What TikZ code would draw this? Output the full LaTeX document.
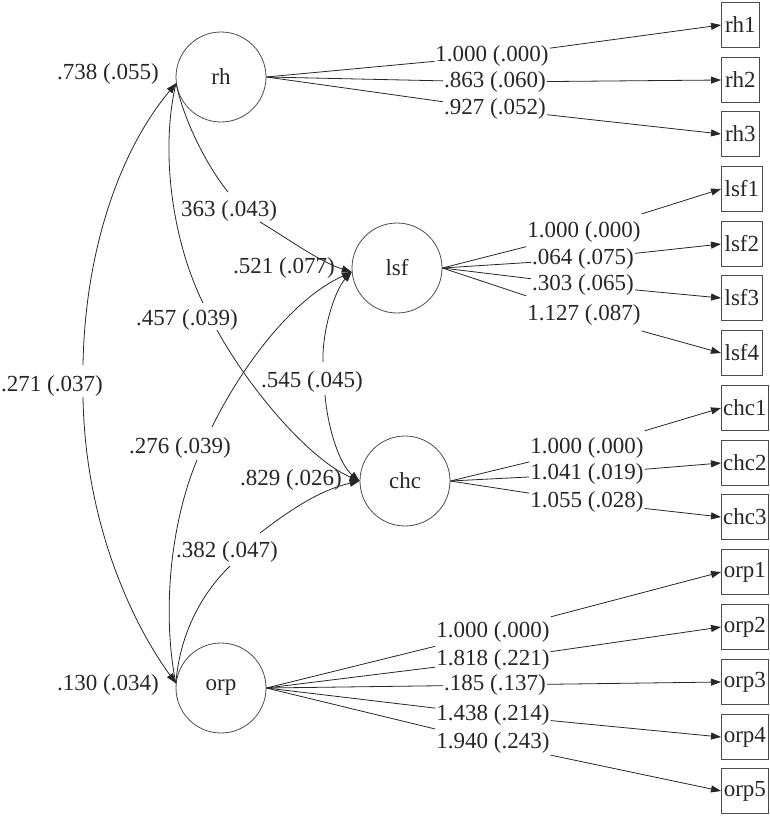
\documentclass[tikz,border=0pt]{standalone}
\usepackage{fontspec}
\setmainfont{Liberation Serif}
\usetikzlibrary{arrows.meta}
\begin{document}
\begin{tikzpicture}[x=1pt,y=-1pt,
  every node/.style={font=\fontsize{23}{27}\selectfont, text=black!85},
  lat/.style={draw=black!70, line width=0.8pt, circle, minimum size=90pt, inner sep=0pt},
  obs/.style={draw=black!70, line width=0.8pt, rectangle, minimum height=45pt, inner xsep=1pt, anchor=west},
  lab/.style={inner xsep=1pt, inner ysep=12pt},
  conn/.style={draw=black!85, line width=0.8pt},
  >={Triangle[length=10pt,width=7pt]}]
\useasboundingbox (0,0) rectangle (770,817);

% latent variables
\node[lat] (rh)  at (221,77)  {rh};
\node[lat] (lsf) at (397,268) {lsf};
\node[lat] (chc) at (405,481) {chc};
\node[lat] (orp) at (221,688) {orp};

% indicators
\node[obs, minimum width=38pt] (rh1) at (721,25)  {rh1};
\node[obs, minimum width=38pt] (rh2) at (721,80)  {rh2};
\node[obs, minimum width=38pt] (rh3) at (721,134) {rh3};
\node[obs, minimum width=41pt] (lsf1) at (721,189) {lsf1};
\node[obs, minimum width=41pt] (lsf2) at (721,244) {lsf2};
\node[obs, minimum width=41pt] (lsf3) at (721,298) {lsf3};
\node[obs, minimum width=41pt] (lsf4) at (721,353) {lsf4};
\node[obs, minimum width=47pt] (chc1) at (721,408) {chc1};
\node[obs, minimum width=47pt] (chc2) at (721,463) {chc2};
\node[obs, minimum width=47pt] (chc3) at (721,517) {chc3};
\node[obs, minimum width=47pt] (orp1) at (721,572) {orp1};
\node[obs, minimum width=47pt] (orp2) at (721,627) {orp2};
\node[obs, minimum width=47pt] (orp3) at (721,682) {orp3};
\node[obs, minimum width=47pt] (orp4) at (721,737) {orp4};
\node[obs, minimum width=47pt] (orp5) at (721,791) {orp5};

% loading labels
\node[lab] (lr1) at (492,56)  {1.000 (.000)};
\node[lab] (lr2) at (495,82)  {.863 (.060)};
\node[lab] (lr3) at (495,109) {.927 (.052)};
\node[lab] (ll1) at (584,232) {1.000 (.000)};
\node[lab] (ll2) at (583,259) {.064 (.075)};
\node[lab] (ll3) at (583,285) {.303 (.065)};
\node[lab] (ll4) at (584,315) {1.127 (.087)};
\node[lab] (lc1) at (587,448) {1.000 (.000)};
\node[lab] (lc2) at (587,474) {1.041 (.019)};
\node[lab] (lc3) at (587,502) {1.055 (.028)};
\node[lab] (lo1) at (493,632) {1.000 (.000)};
\node[lab] (lo2) at (493,660) {1.818 (.221)};
\node[lab] (lo3) at (495,685) {.185 (.137)};
\node[lab] (lo4) at (493,715) {1.438 (.214)};
\node[lab] (lo5) at (493,743) {1.940 (.243)};

% loadings
\foreach \l/\b in {lr1/rh1,lr2/rh2,lr3/rh3}{
  \draw[conn] (rh.east) -- (\l); \draw[conn,->] (\l) -- (\b.west);}
\foreach \l/\b in {ll1/lsf1,ll2/lsf2,ll3/lsf3,ll4/lsf4}{
  \draw[conn] (lsf.east) -- (\l); \draw[conn,->] (\l) -- (\b.west);}
\foreach \l/\b in {lc1/chc1,lc2/chc2,lc3/chc3}{
  \draw[conn] (chc.east) -- (\l); \draw[conn,->] (\l) -- (\b.west);}
\foreach \l/\b in {lo1/orp1,lo2/orp2,lo3/orp3,lo4/orp4,lo5/orp5}{
  \draw[conn] (orp.east) -- (\l); \draw[conn,->] (\l) -- (\b.west);}

% variance labels
\node (vrh)  at (108,74)  {.738 (.055)};
\node (vlsf) at (284,268) {.521 (.077)};
\node (vchc) at (291,480) {.829 (.026)};
\node (vorp) at (108,685) {.130 (.034)};

% structural labels
\node (b363) at (229,211) {363 (.043)};
\node (b276) at (180,448) {.276 (.039)};
\node (b457) at (187,320) {.457 (.039)};
\node (c545) at (312,382) {.545 (.045)};
\node (b382) at (227,552) {.382 (.047)};
\node (c271) at (52,386)  {.271 (.037)};

% break points of the curves at their labels
\coordinate (p1a) at (228,192); \coordinate (p1b) at (260,222);
\coordinate (p2a) at (197,460); \coordinate (p2b) at (212,427);
\coordinate (p3a) at (203,303); \coordinate (p3b) at (217,330);
\coordinate (p4a) at (323,362); \coordinate (p4b) at (325,395);
\coordinate (p5a) at (230,566); \coordinate (p5b) at (260,533);
\coordinate (p6a) at (83,365);  \coordinate (p6b) at (83,397);

% rh -> lsf
\draw[conn] (rh.188) .. controls (185,125) and (210,170) .. (p1a);
\draw[conn,->] (p1b) .. controls (290,240) and (320,262) .. (lsf.185);
% orp -> lsf
\draw[conn] (orp.174) .. controls (163,620) and (168,530) .. (p2a);
\draw[conn,->] (p2b) .. controls (240,370) and (290,300) .. (lsf.185);
% rh -> chc
\draw[conn] (rh.188) .. controls (160,150) and (172,240) .. (p3a);
\draw[conn,->] (p3b) .. controls (250,390) and (310,460) .. (chc.180);
% lsf <-> chc
\draw[conn,<-] (lsf.185) .. controls (335,290) and (322,330) .. (p4a);
\draw[conn,->] (p4b) .. controls (328,430) and (340,465) .. (chc.180);
% orp -> chc
\draw[conn] (orp.174) .. controls (180,630) and (205,590) .. (p5a);
\draw[conn,->] (p5b) .. controls (290,510) and (320,490) .. (chc.180);
% rh <-> orp
\draw[conn,<-] (rh.188) .. controls (120,150) and (85,250) .. (p6a);
\draw[conn,->] (p6b) .. controls (85,520) and (130,620) .. (orp.174);
\end{tikzpicture}
\end{document}
